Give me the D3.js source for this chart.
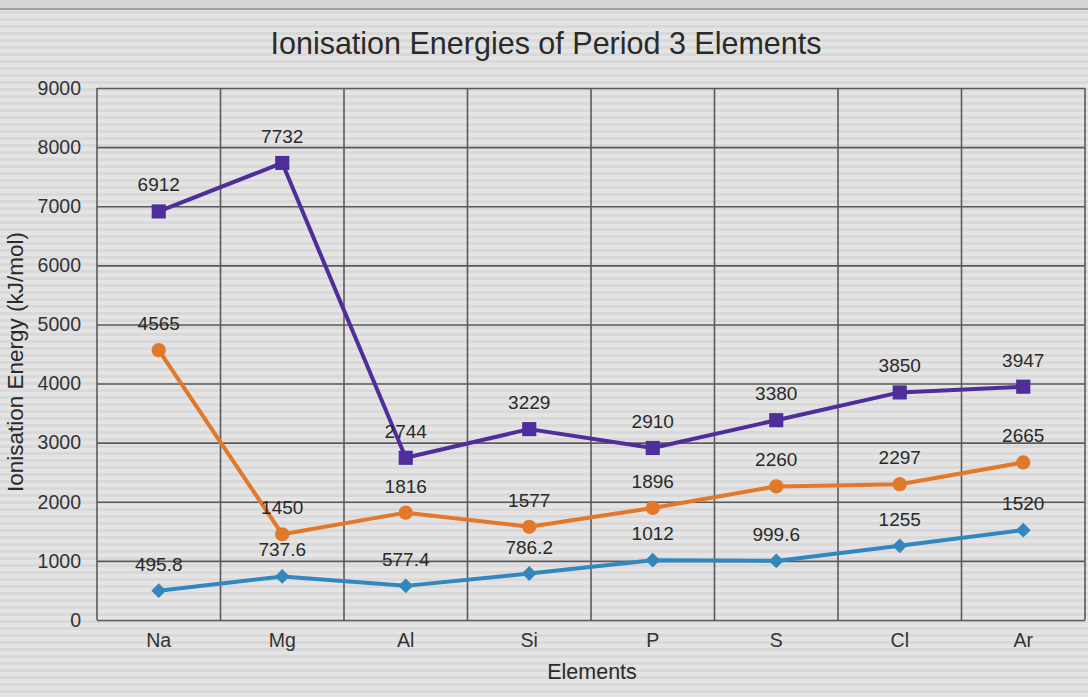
<!DOCTYPE html>
<html><head><meta charset="utf-8">
<script src="https://cdn.jsdelivr.net/npm/d3@7"></script>
<style>
html,body{margin:0;padding:0;background:#e3e3e3;}
svg{display:block;}
</style></head>
<body>
<script>
const categories = ["Na","Mg","Al","Si","P","S","Cl","Ar"];
const firstIE  = [495.8, 737.6, 577.4, 786.2, 1012, 999.6, 1255, 1520];
const secondIE = [4565, 1450, 1816, 1577, 1896, 2260, 2297, 2665];
const thirdIE  = [6912, 7732, 2744, 3229, 2910, 3380, 3850, 3947];
const yTicks = [0,1000,2000,3000,4000,5000,6000,7000,8000,9000];

const W = 1088, H = 697;
const m = {left: 97, right: 3, top: 88, bottom: 77};
const FONT = "Liberation Sans, Arial, sans-serif";

const svg = d3.select("body").append("svg").attr("width", W).attr("height", H);
const defs = svg.append("defs");
const pat = defs.append("pattern").attr("id","stripes").attr("width",8).attr("height",7)
  .attr("patternUnits","userSpaceOnUse");
pat.append("rect").attr("width",8).attr("height",7).attr("fill","#e4e4e4");
pat.append("rect").attr("y",4).attr("width",8).attr("height",3).attr("fill","#d9d9d9");

svg.append("rect").attr("width",W).attr("height",H).attr("fill","url(#stripes)");
svg.append("rect").attr("width",W).attr("height",9).attr("fill","#d6d6d6");
svg.append("line").attr("x1",0).attr("x2",W).attr("y1",9).attr("y2",9).attr("stroke","#8a8a8a").attr("stroke-width",1.5);

const x = d3.scaleBand().domain(categories).range([m.left, W - m.right]);
const y = d3.scaleLinear().domain([0, 9000]).range([H - m.bottom, m.top]);

const g = svg.append("g");
const yGrid = d3.axisLeft(y).tickValues(yTicks).tickSize(-(W - m.right - m.left)).tickFormat("");
g.append("g").attr("transform",`translate(${m.left},0)`).call(yGrid)
  .call(s => s.select(".domain").remove())
  .selectAll("line").attr("stroke","#5a5a5a").attr("stroke-width",1.6);
const bounds = categories.map(c => x(c)).concat([x(categories[categories.length-1]) + x.bandwidth()]);
g.selectAll(".vg").data(bounds).enter().append("line")
  .attr("x1", d=>d).attr("x2", d=>d).attr("y1", y(9000)).attr("y2", y(0))
  .attr("stroke","#5a5a5a").attr("stroke-width",1.6);

const yAxis = d3.axisLeft(y).tickValues(yTicks).tickSize(0).tickPadding(16).tickFormat(d3.format("d"));
svg.append("g").attr("transform",`translate(${m.left},0)`).call(yAxis)
  .call(s => s.select(".domain").remove())
  .selectAll("text").attr("font-family",FONT).attr("font-size",19.5).attr("fill","#333");

const xAxis = d3.axisBottom(x).tickSize(0).tickPadding(13);
svg.append("g").attr("transform",`translate(0,${y(0)})`).call(xAxis)
  .call(s => s.select(".domain").remove())
  .selectAll("text").attr("font-family",FONT).attr("font-size",19.5).attr("fill","#333");

svg.append("text").attr("x",546).attr("y",54).attr("text-anchor","middle")
  .attr("font-family",FONT).attr("font-size",30.5).attr("fill","#2a2a2a")
  .text("Ionisation Energies of Period 3 Elements");
svg.append("text").attr("x",592).attr("y",679).attr("text-anchor","middle")
  .attr("font-family",FONT).attr("font-size",21.5).attr("fill","#2a2a2a")
  .text("Elements");
svg.append("text").attr("transform","translate(23,362) rotate(-90)").attr("text-anchor","middle")
  .attr("font-family",FONT).attr("font-size",22.5).attr("fill","#2a2a2a")
  .text("Ionisation Energy (kJ/mol)");

const cx = c => x(c) + x.bandwidth()/2;
const series = [
  {vals: firstIE,  color: "#3288be", sym: d3.symbolSquare, size: 110, rot: 45},
  {vals: secondIE, color: "#e2782a", sym: d3.symbolCircle, size: 160, rot: 0},
  {vals: thirdIE,  color: "#4f2e9c", sym: d3.symbolSquare, size: 200, rot: 0}
];
const line = d3.line().x((d,i)=>cx(categories[i])).y(d=>y(d));
series.forEach(s => {
  svg.append("path").datum(s.vals).attr("d", line).attr("fill","none")
    .attr("stroke", s.color).attr("stroke-width",4).attr("stroke-linejoin","round");
  svg.selectAll(null).data(s.vals).enter().append("path")
    .attr("d", d3.symbol().type(s.sym).size(s.size))
    .attr("transform",(d,i)=>`translate(${cx(categories[i])},${y(d)}) rotate(${s.rot})`)
    .attr("fill", s.color);
});
series.forEach(s => {
  svg.selectAll(null).data(s.vals).enter().append("text")
    .attr("x",(d,i)=>cx(categories[i])).attr("y", d => y(d) - 20)
    .attr("text-anchor","middle")
    .attr("font-family",FONT).attr("font-size",19).attr("fill","#2a2a2a")
    .text(d => d);
});
</script>
</body></html>
